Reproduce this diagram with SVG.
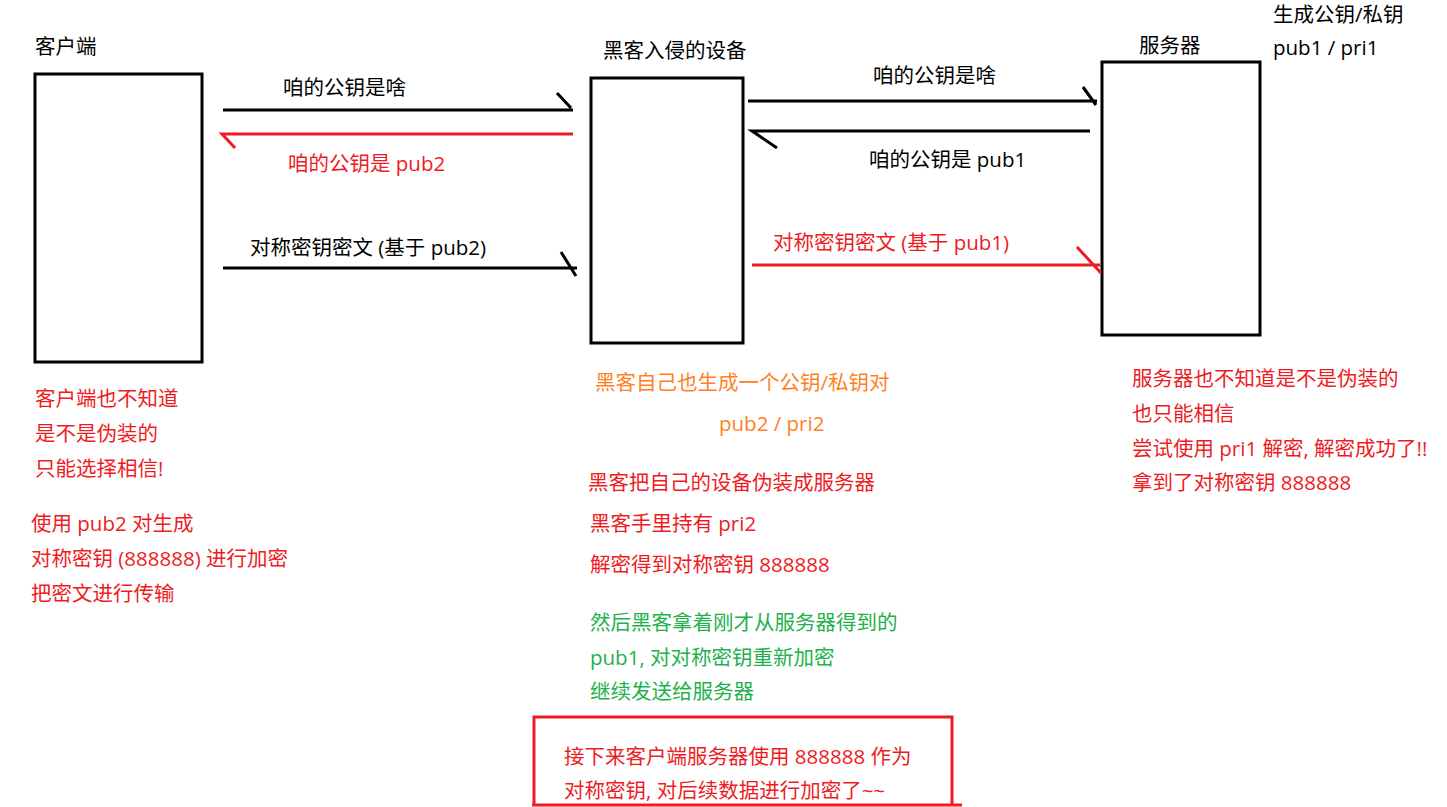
<svg xmlns="http://www.w3.org/2000/svg" width="1447" height="807" viewBox="0 0 1447 807">
<style>
text{font-family:"Open Sans","Noto Sans CJK SC",sans-serif;font-size:20.5px;fill:#000}
.r{fill:#ED1C24}.o{fill:#FF7F27}.g{fill:#22B14C}
.box{fill:none;stroke:#000;stroke-width:3}
.ln{stroke:#000;stroke-width:3;fill:none}
.lr{stroke:#ED1C24;stroke-width:3;fill:none}
</style>
<rect width="1447" height="807" fill="#fff"/>
<g id="client">
<rect class="box" x="35" y="74" width="167" height="288"/>
<text x="35" y="54">客户端</text>
</g>
<g id="hacker">
<rect class="box" x="591" y="78" width="152" height="265"/>
<text x="603" y="58">黑客入侵的设备</text>
</g>
<g id="server">
<rect class="box" x="1102" y="62" width="158" height="273"/>
<text x="1139" y="53">服务器</text>
<text x="1273" y="22">生成公钥/私钥</text>
<text x="1273" y="55">pub1 / pri1</text>
</g>
<g id="connectors">
<path class="ln" d="M223 110H573M557 93L571 108"/>
<path class="lr" d="M573 134H222L235 148"/>
<path class="ln" d="M223 268H577M561 252L576 276"/>
<path class="ln" d="M748 101H1097M1083 87L1096 105"/>
<path class="ln" d="M1090 131H752L777 148"/>
<path class="lr" d="M752 265H1100M1077 247L1101 273"/>
</g>
<g id="labels">
<text x="283" y="95">咱的公钥是啥</text>
<text class="r" x="288" y="171">咱的公钥是 pub2</text>
<text x="250" y="255">对称密钥密文 (基于 pub2)</text>
<text x="873" y="83">咱的公钥是啥</text>
<text x="869" y="167">咱的公钥是 pub1</text>
<text class="r" x="773" y="250">对称密钥密文 (基于 pub1)</text>
</g>
<g id="client-notes">
<text class="r" x="35" y="406">客户端也不知道</text>
<text class="r" x="35" y="441">是不是伪装的</text>
<text class="r" x="35" y="476">只能选择相信!</text>
<text class="r" x="31" y="531">使用 pub2 对生成</text>
<text class="r" x="31" y="566">对称密钥 (888888) 进行加密</text>
<text class="r" x="31" y="601">把密文进行传输</text>
</g>
<g id="hacker-notes">
<text class="o" x="595" y="390">黑客自己也生成一个公钥/私钥对</text>
<text class="o" x="719" y="431">pub2 / pri2</text>
<text class="r" x="588" y="490">黑客把自己的设备伪装成服务器</text>
<text class="r" x="590" y="531">黑客手里持有 pri2</text>
<text class="r" x="590" y="572">解密得到对称密钥 888888</text>
<text class="g" x="590" y="630">然后黑客拿着刚才从服务器得到的</text>
<text class="g" x="590" y="665">pub1, 对对称密钥重新加密</text>
<text class="g" x="590" y="699">继续发送给服务器</text>
</g>
<g id="server-notes">
<text class="r" x="1132" y="386">服务器也不知道是不是伪装的</text>
<text class="r" x="1132" y="421">也只能相信</text>
<text class="r" x="1132" y="456">尝试使用 pri1 解密, 解密成功了!!</text>
<text class="r" x="1132" y="490">拿到了对称密钥 888888</text>
</g>
<g id="summary">
<path class="lr" d="M534 805V717H952V805M532 805H962"/>
<text class="r" x="564" y="764">接下来客户端服务器使用 888888 作为</text>
<text class="r" x="564" y="798">对称密钥, 对后续数据进行加密了~~</text>
</g>
</svg>
